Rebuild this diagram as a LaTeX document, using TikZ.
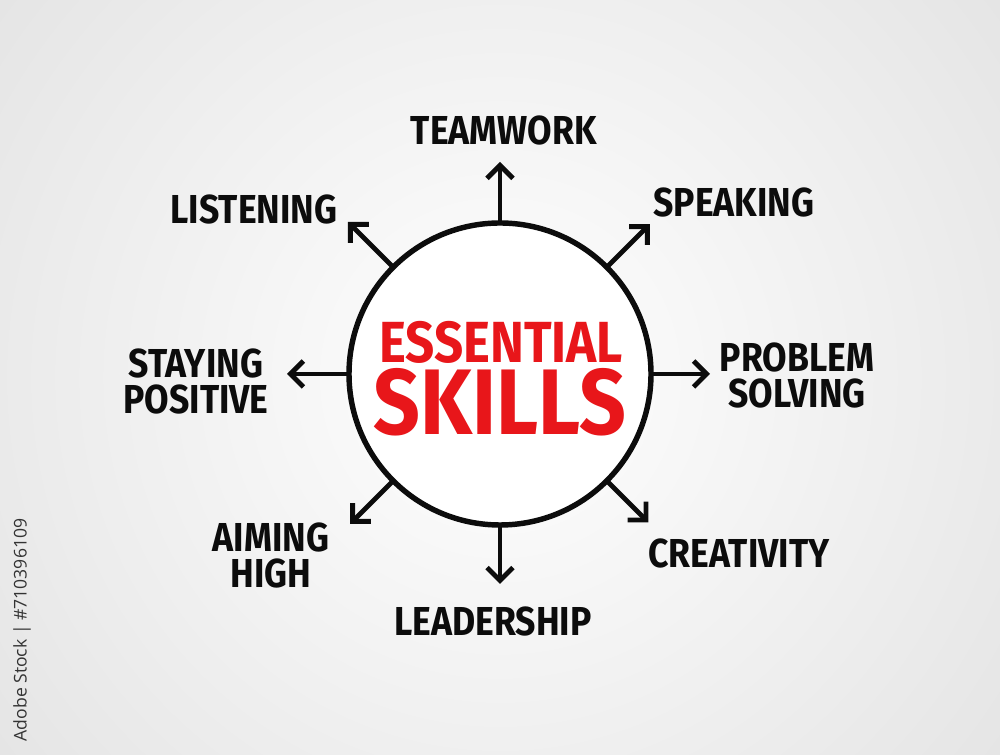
\documentclass[tikz,border=0pt]{standalone}
\usepackage{fontspec}
\setmainfont{Fira Sans}
\newfontfamily\markerfont[FakeStretch=0.88]{Fira Sans}
\newfontfamily\stockfont{Open Sans}
\usetikzlibrary{arrows.meta, positioning, calc}
\definecolor{skillred}{RGB}{232,22,26}
\definecolor{inkblack}{RGB}{12,12,12}

\tikzset{
  skill/.style={font=\markerfont\bfseries\fontsize{23}{19}\selectfont, text=inkblack, inner sep=0pt, text height=15.9pt, text depth=0pt},
  title/.style={text=skillred, inner sep=0pt, text depth=0pt},
  spoke/.style={line width=2.8pt, draw=inkblack, line cap=round, -{Straight Barb[length=2.6mm, width=5.2mm, line width=2.8pt]}}
}

\begin{document}
\begin{tikzpicture}[node distance=0.13cm]
  % Background
  \clip (0,0) rectangle (20,15.1);
  \shade[inner color=white, outer color=black!11] (10,7.55) circle (13.5);
  \useasboundingbox (0,0) rectangle (20,15.1);

  % Hub
  \node [circle, draw=inkblack, fill=white, line width=3.1pt, minimum size=6.04cm] (hub) at (10,7.62) {};
  \node [title, font=\markerfont\bfseries\fontsize{33}{33}\selectfont, text height=22.7pt] (essential) at (10.02,8.24) {ESSENTIAL};
  \node [title, font=\markerfont\bfseries\fontsize{53}{53}\selectfont, text height=36.5pt] (skills) at (10.0,7.06) {SKILLS};

  % Arrow tips
  \coordinate (tipteam) at ([shift={(90:4.24)}]hub.center);
  \coordinate (tipspeak) at ([shift={(45:4.24)}]hub.center);
  \coordinate (tipproblem) at ([shift={(0:4.2)}]hub.center);
  \coordinate (tipcreate) at ([shift={(-45:4.2)}]hub.center);
  \coordinate (tiplead) at ([shift={(-90:4.2)}]hub.center);
  \coordinate (tipaim) at ([shift={(-135:4.24)}]hub.center);
  \coordinate (tipstay) at ([shift={(180:4.26)}]hub.center);
  \coordinate (tiplisten) at ([shift={(135:4.3)}]hub.center);

  % Spokes
  \draw [spoke] (hub.90) -- (tipteam);
  \draw [spoke] (hub.45) -- (tipspeak);
  \draw [spoke] (hub.0) -- (tipproblem);
  \draw [spoke] (hub.-45) -- (tipcreate);
  \draw [spoke] (hub.-90) -- (tiplead);
  \draw [spoke] (hub.-135) -- (tipaim);
  \draw [spoke] (hub.180) -- (tipstay);
  \draw [spoke] (hub.135) -- (tiplisten);

  % Labels
  \node [skill] (teamwork) at (10.08,12.48) {TEAMWORK};
  \node [skill] (speaking) at (14.68,11.04) {SPEAKING};
  \node [skill] (problem) at (15.94,7.94) {PROBLEM};
  \node [skill, below=of problem] (solving) {SOLVING};
  \node [skill] (creativity) at (14.78,4.02) {CREATIVITY};
  \node [skill] (leadership) at (9.86,2.66) {LEADERSHIP};
  \node [skill] (aiming) at (5.42,4.34) {AIMING};
  \node [skill, below=of aiming] (high) {HIGH};
  \node [skill] (staying) at (3.92,7.82) {STAYING};
  \node [skill, below=of staying] (positive) {POSITIVE};
  \node [skill] (listening) at (5.08,10.9) {LISTENING};

  % Stock line
  \node [rotate=90, font=\stockfont\fontsize{10}{10}\selectfont, text=black!80] (stock) at (0.44,2.5) {Adobe Stock | \#710396109};
\end{tikzpicture}
\end{document}
